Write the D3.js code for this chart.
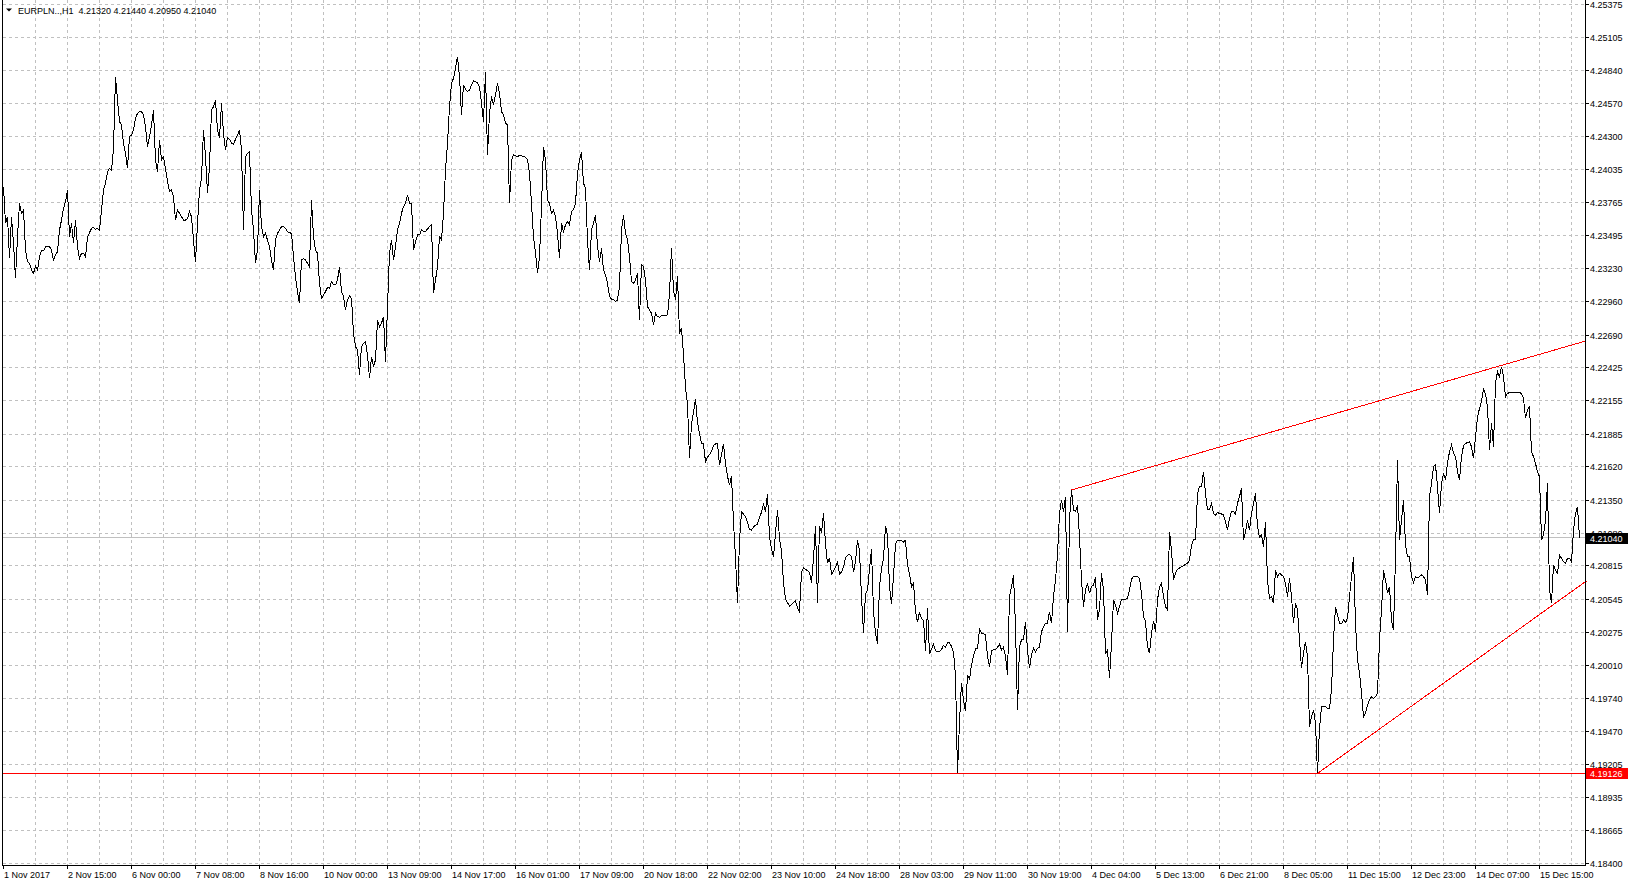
<!DOCTYPE html>
<html><head><meta charset="utf-8">
<script src="https://cdn.jsdelivr.net/npm/d3@7"></script>
<style>html,body{margin:0;padding:0;background:#fff;overflow:hidden}text{font-family:"Liberation Sans",Arial,sans-serif;font-size:9px}</style>
</head><body><svg id="c" width="1628" height="886"></svg>
<script>
const symbol = "EURPLN..,H1";
const ohlc = ["4.21320", "4.21440", "4.20950", "4.21040"];
const yTickLabels = ["4.25375","4.25105","4.24840","4.24570","4.24300","4.24035","4.23765","4.23495","4.23230",
  "4.22960","4.22690","4.22425","4.22155","4.21885","4.21620","4.21350","4.21080","4.20815","4.20545",
  "4.20275","4.20010","4.19740","4.19470","4.19205","4.18935","4.18665","4.18400"];
const timeLabels = ["1 Nov 2017","2 Nov 15:00","6 Nov 00:00","7 Nov 08:00","8 Nov 16:00","10 Nov 00:00",
  "13 Nov 09:00","14 Nov 17:00","16 Nov 01:00","17 Nov 09:00","20 Nov 18:00","22 Nov 02:00","23 Nov 10:00",
  "24 Nov 18:00","28 Nov 03:00","29 Nov 11:00","30 Nov 19:00","4 Dec 04:00","5 Dec 13:00","6 Dec 21:00",
  "8 Dec 05:00","11 Dec 15:00","12 Dec 23:00","14 Dec 07:00","15 Dec 15:00"];
const barsPerLabel = 32;
// hourly closes, one per bar
const closes = [
4.23891,4.23593,4.23648,4.23309,4.23648,4.23431,4.23147,4.23485,4.23756,4.23675,
4.23702,4.23377,4.23282,4.23269,4.23214,4.23187,4.23247,4.23214,4.23323,4.23369,
4.23369,4.23404,4.23404,4.23404,4.23377,4.23296,4.23336,4.23363,4.23539,4.23620,
4.23715,4.23769,4.23864,4.23485,4.23593,4.23431,4.23620,4.23404,4.23309,4.23350,
4.23350,4.23323,4.23485,4.23518,4.23553,4.23561,4.23545,4.23553,4.23539,4.23702,
4.23864,4.23918,4.24013,4.24040,4.24026,4.24202,4.24784,4.24595,4.24419,4.24392,
4.24243,4.24162,4.24040,4.24297,4.24311,4.24351,4.24446,4.24487,4.24500,4.24500,
4.24473,4.24378,4.24216,4.24297,4.24392,4.24514,4.24108,4.24013,4.24270,4.24108,
4.24135,4.24040,4.23932,4.23851,4.23864,4.23810,4.23620,4.23702,4.23675,4.23648,
4.23620,4.23620,4.23634,4.23688,4.23648,4.23458,4.23282,4.23593,4.23864,4.23959,
4.24351,4.24135,4.23837,4.24054,4.24514,4.24541,4.24595,4.24351,4.24284,4.24568,
4.24324,4.24189,4.24292,4.24276,4.24243,4.24235,4.24276,4.24311,4.24351,4.24189,
4.23539,4.24135,4.24162,4.24175,4.23702,4.23539,4.23269,4.23377,4.23864,4.23566,
4.23485,4.23512,4.23458,4.23404,4.23296,4.23214,4.23458,4.23512,4.23539,4.23566,
4.23566,4.23553,4.23526,4.23518,4.23512,4.23323,4.23160,4.23038,4.22944,4.23296,
4.23309,4.23296,4.23269,4.23241,4.23783,4.23485,4.23377,4.23350,4.23106,4.22984,
4.23011,4.23038,4.23074,4.23066,4.23120,4.23093,4.23093,4.23134,4.23242,4.23039,
4.22999,4.22890,4.22972,4.23004,4.22985,4.22701,4.22593,4.22566,4.22362,4.22593,
4.22620,4.22633,4.22525,4.22335,4.22511,4.22430,4.22484,4.22809,4.22755,4.22782,
4.22836,4.22471,4.22917,4.23350,4.23459,4.23296,4.23405,4.23540,4.23594,4.23675,
4.23730,4.23757,4.23824,4.23757,4.23757,4.23378,4.23445,4.23499,4.23499,4.23540,
4.23526,4.23526,4.23548,4.23567,4.23581,4.23026,4.23134,4.23242,4.23486,4.23459,
4.23675,4.24027,4.24244,4.24542,4.24731,4.24772,4.24853,4.24948,4.24785,4.24474,
4.24718,4.24682,4.24663,4.24677,4.24718,4.24753,4.24745,4.24736,4.24704,4.24569,
4.24420,4.24826,4.24149,4.24487,4.24623,4.24555,4.24636,4.24731,4.24650,4.24501,
4.24474,4.24406,4.24393,4.23757,4.24108,4.24149,4.24141,4.24136,4.24144,4.24141,
4.24136,4.24130,4.24114,4.24000,4.23757,4.23486,4.23350,4.23188,4.23323,4.23730,
4.24217,4.24108,4.23784,4.23757,4.23675,4.23702,4.23648,4.23513,4.23310,4.23594,
4.23526,4.23581,4.23608,4.23581,4.23689,4.23708,4.23757,4.24000,4.24108,4.24176,
4.23919,4.23878,4.23459,4.23215,4.23540,4.23594,4.23662,4.23405,4.23283,4.23391,
4.23215,4.23175,4.23107,4.22999,4.22977,4.22977,4.22958,4.22972,4.23080,4.23540,
4.23662,4.23513,4.23459,4.23323,4.23120,4.23107,4.23134,4.23188,4.22809,4.23256,
4.23242,4.23134,4.22917,4.22890,4.22863,4.22769,4.22863,4.22836,4.22831,4.22844,
4.22844,4.22844,4.22850,4.23018,4.23394,4.23047,4.22974,4.23163,4.22699,4.22743,
4.22526,4.22265,4.22120,4.21686,4.21961,4.22063,4.22164,4.21976,4.21889,4.21802,
4.21802,4.21657,4.21695,4.21715,4.21744,4.21788,4.21802,4.21802,4.21628,4.21715,
4.21802,4.21643,4.21541,4.21466,4.21541,4.21165,4.20876,4.20514,4.21020,4.21252,
4.21232,4.21209,4.21165,4.21107,4.21101,4.21128,4.21142,4.21151,4.21209,4.21246,
4.21310,4.21252,4.21397,4.21049,4.20948,4.20881,4.21078,4.21266,4.21035,4.20934,
4.20673,4.20543,4.20514,4.20485,4.20499,4.20514,4.20528,4.20470,4.20441,4.20760,
4.20795,4.20783,4.20774,4.20760,4.20673,4.20876,4.21136,4.20514,4.21136,4.21078,
4.21237,4.20991,4.20832,4.20876,4.20745,4.20766,4.20803,4.20841,4.20745,4.20760,
4.20803,4.20876,4.20899,4.20905,4.20890,4.20760,4.20847,4.21020,4.20934,4.20557,
4.20268,4.20586,4.20615,4.20789,4.20948,4.20441,4.20268,4.20181,4.20644,4.20789,
4.20876,4.21136,4.21064,4.20644,4.20499,4.20731,4.20991,4.21020,4.21020,4.21015,
4.21006,4.21020,4.20818,4.20745,4.20644,4.20673,4.20441,4.20355,4.20436,4.20384,
4.20369,4.20123,4.20470,4.20094,4.20137,4.20175,4.20123,4.20114,4.20117,4.20132,
4.20166,4.20152,4.20189,4.20187,4.20158,4.20109,4.19920,4.19126,4.19544,4.19862,
4.19718,4.19631,4.19920,4.19891,4.20007,4.20080,4.20137,4.20137,4.20297,4.20264,
4.20259,4.20250,4.20074,4.19993,4.20123,4.20129,4.20129,4.20150,4.20177,4.20129,
4.20150,4.20074,4.19926,4.20562,4.20643,4.20738,4.20318,4.19641,4.20156,4.20210,
4.20210,4.20359,4.20129,4.19980,4.20088,4.20142,4.20115,4.20142,4.20150,4.20277,
4.20313,4.20345,4.20345,4.20440,4.20345,4.20562,4.20697,4.20900,4.21238,4.21347,
4.21252,4.21374,4.20277,4.21184,4.21428,4.21266,4.21252,4.21306,4.21049,4.20697,
4.20480,4.20616,4.20670,4.20589,4.20643,4.20656,4.20724,4.20372,4.20453,4.20751,
4.20616,4.20102,4.20129,4.19898,4.20183,4.20535,4.20494,4.20426,4.20480,4.20540,
4.20540,4.20540,4.20548,4.20616,4.20702,4.20724,4.20724,4.20724,4.20711,4.20589,
4.20399,4.20359,4.20156,4.20102,4.20264,4.20367,4.20277,4.20535,4.20643,4.20670,
4.20562,4.20480,4.20453,4.21090,4.20941,4.20697,4.20751,4.20784,4.20795,4.20805,
4.20813,4.20824,4.20832,4.20859,4.20981,4.21022,4.21022,4.21401,4.21455,4.21455,
4.21577,4.21401,4.21266,4.21271,4.21320,4.21238,4.21225,4.21244,4.21238,4.21233,
4.21225,4.21171,4.21103,4.21198,4.21252,4.21252,4.21233,4.21320,4.21374,4.21441,
4.21022,4.21090,4.21184,4.21103,4.21238,4.21320,4.21401,4.21130,4.21044,4.21063,
4.20968,4.21171,4.20697,4.20548,4.20562,4.20508,4.20778,4.20724,4.20751,4.20738,
4.20724,4.20670,4.20562,4.20711,4.20562,4.20345,4.20508,4.20453,4.20210,4.19980,
4.20101,4.20196,4.20074,4.19506,4.19587,4.19641,4.19533,4.19126,4.19492,4.19668,
4.19668,4.19668,4.19655,4.19655,4.19804,4.20210,4.20480,4.20413,4.20345,4.20340,
4.20372,4.20351,4.20386,4.20562,4.20724,4.20886,4.20345,4.20047,4.19939,4.19777,
4.19587,4.19614,4.19682,4.19722,4.19750,4.19736,4.19750,4.19777,4.20210,4.20453,
4.20778,4.20697,4.20589,4.20643,4.20372,4.20291,4.20886,4.21671,4.21022,4.21184,
4.21347,4.20981,4.20886,4.20886,4.20724,4.20675,4.20724,4.20716,4.20724,4.20738,
4.20724,4.20697,4.20575,4.21374,4.21482,4.21617,4.21631,4.21455,4.21238,4.21482,
4.21563,4.21509,4.21644,4.21739,4.21793,4.21726,4.21699,4.21577,4.21509,4.21699,
4.21785,4.21807,4.21812,4.21820,4.21780,4.21685,4.21861,4.22018,4.22091,4.22145,
4.22253,4.22207,4.22105,4.21753,4.21969,4.21780,4.22294,4.22389,4.22348,4.22429,
4.22348,4.22186,4.22213,4.22218,4.22221,4.22221,4.22218,4.22218,4.22218,4.22213,
4.22172,4.22010,4.22078,4.22105,4.21739,4.21699,4.21644,4.21577,4.21536,4.21022,
4.21062,4.21184,4.21482,4.20616,4.20508,4.20819,4.20778,4.20751,4.20900,4.20873,
4.20846,4.20832,4.20873,4.20873,4.20846,4.21103,4.21238,4.21292,4.21040
];
const supportLevel = 4.19126;
const lastPrice = 4.21040;
const upperTrend = [[534, 4.21428], [749, 4.22440]]; // [bar, price]
const lowerTrend = [[657, 4.19126], [774, 4.20486]];

const svg = d3.select("#c");
const plotLeft = 3, plotRight = 1586, axisY = 865.5, maxBar = 791.5;
const x = d3.scaleLinear().domain([0, maxBar]).range([plotLeft + 0.5, plotRight + 0.5]);
const y = d3.scaleLinear().domain([4.184, 4.25375]).range([862.8, 4]);
const gridColor = "#c0c0c0";
const snap = v => Math.round(v) + 0.5;

// horizontal grid
const gG = svg.append("g").attr("shape-rendering", "crispEdges");
yTickLabels.forEach(t => {
  const yy = snap(y(+t));
  gG.append("line").attr("x1", plotLeft).attr("x2", plotRight).attr("y1", yy).attr("y2", yy)
    .attr("stroke", gridColor).attr("stroke-dasharray", "3,3");
});
// vertical grid every half label step
for (let b = barsPerLabel / 2; x(b) < plotRight; b += barsPerLabel / 2) {
  const xx = snap(x(b) - 0.5);
  gG.append("line").attr("x1", xx).attr("x2", xx).attr("y1", 0).attr("y2", axisY)
    .attr("stroke", gridColor).attr("stroke-dasharray", "3,3");
}

// last price line
const yLast = snap(y(lastPrice) - 0.5);
svg.append("line").attr("x1", plotLeft).attr("x2", plotRight).attr("y1", yLast).attr("y2", yLast)
  .attr("stroke", "#c0c0c0").attr("shape-rendering", "crispEdges");

// support line
const ySup = snap(y(supportLevel));
svg.append("line").attr("x1", plotLeft).attr("x2", plotRight).attr("y1", ySup).attr("y2", ySup)
  .attr("stroke", "#ff0000").attr("shape-rendering", "crispEdges");

// trend rays
function ray(tr) {
  const [[b1, p1], [b2, p2]] = tr;
  const slope = (p2 - p1) / (b2 - b1);
  const pEnd = p1 + slope * (maxBar - b1);
  svg.append("line").attr("x1", x(b1)).attr("y1", y(p1)).attr("x2", x(maxBar)).attr("y2", y(pEnd))
    .attr("stroke", "#ff0000").attr("stroke-width", 1).attr("shape-rendering", "crispEdges");
}
ray(upperTrend);
ray(lowerTrend);

// price line
const line = d3.line().x((d, i) => x(i)).y(d => y(d));
svg.append("path").datum(closes).attr("d", line).attr("fill", "none")
  .attr("stroke", "#000").attr("stroke-width", 1).attr("shape-rendering", "crispEdges");

// frame
const fr = svg.append("g").attr("stroke", "#000").attr("shape-rendering", "crispEdges");
fr.append("line").attr("x1", 2.5).attr("x2", 2.5).attr("y1", 0).attr("y2", axisY);
fr.append("line").attr("x1", plotRight - 0.5).attr("x2", plotRight - 0.5).attr("y1", 0).attr("y2", axisY);
fr.append("line").attr("x1", 2.5).attr("x2", plotRight - 0.5).attr("y1", axisY).attr("y2", axisY);

// y axis ticks + labels
yTickLabels.forEach(t => {
  const yy = snap(y(+t));
  fr.append("line").attr("x1", plotRight).attr("x2", plotRight + 3).attr("y1", yy).attr("y2", yy);
  svg.append("text").attr("x", plotRight + 4).attr("y", yy + 3.5).attr("fill", "#000").text(t);
});
// x axis ticks + labels
timeLabels.forEach((t, i) => {
  const xx = snap(x(i * barsPerLabel) - 0.5);
  fr.append("line").attr("x1", xx).attr("x2", xx).attr("y1", axisY).attr("y2", axisY + 3.5);
  svg.append("text").attr("x", xx + 0.5).attr("y", 878).attr("fill", "#000").text(t);
});

// price tags
function tag(price, fill) {
  const yy = Math.round(y(price));
  svg.append("rect").attr("x", plotRight).attr("y", yy - 5).attr("width", 1628 - plotRight).attr("height", 11)
    .attr("fill", fill).attr("shape-rendering", "crispEdges");
  svg.append("text").attr("x", plotRight + 4).attr("y", yy + 4).attr("fill", "#fff")
    .text(price.toFixed(5));
}
tag(lastPrice, "#000");
tag(supportLevel, "#ff0000");

// header
svg.append("path").attr("d", "M6,8.5 L12,8.5 L9,11.5 Z").attr("fill", "#000");
svg.append("text").attr("x", 18).attr("y", 13.5).attr("fill", "#000")
  .text(symbol + "\u00a0\u00a0" + ohlc.join(" "));
</script></body></html>
